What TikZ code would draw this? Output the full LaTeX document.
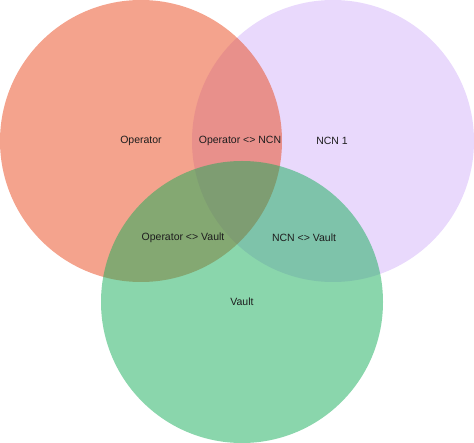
\documentclass[tikz,border=0pt]{standalone}
\usepackage{fontspec}
\setmainfont{Liberation Sans}
\definecolor{opred}{RGB}{233,71,27}
\definecolor{ncnpurple}{RGB}{211,179,249}
\definecolor{vaultgreen}{RGB}{21,173,89}
\definecolor{labelink}{RGB}{30,30,30}
\tikzset{
  setcircle/.style={circle, minimum size=282pt, inner sep=0pt, draw=none, fill opacity=0.5},
  setlabel/.style={font=\fontsize{10.5}{12}\selectfont, text=labelink, inner sep=1pt}
}
\begin{document}
\begin{tikzpicture}[x=1pt,y=1pt]
\useasboundingbox (0,0) rectangle (474,-443);
\node[setcircle, fill=ncnpurple] (ncn) at (333,-141) {};
\node[setcircle, fill=opred] (op) at (141,-141) {};
\node[setcircle, fill=vaultgreen] (vault) at (242,-302) {};
\node[setlabel] (lop) at (141,-141) {Operator};
\node[setlabel] (lopncn) at (240,-141) {Operator <> NCN};
\node[setlabel] (lncn) at (332,-141) {NCN 1};
\node[setlabel] (lopv) at (183,-238) {Operator <> Vault};
\node[setlabel] (lncnv) at (304,-238) {NCN <> Vault};
\node[setlabel] (lv) at (242,-302) {Vault};
\end{tikzpicture}
\end{document}
